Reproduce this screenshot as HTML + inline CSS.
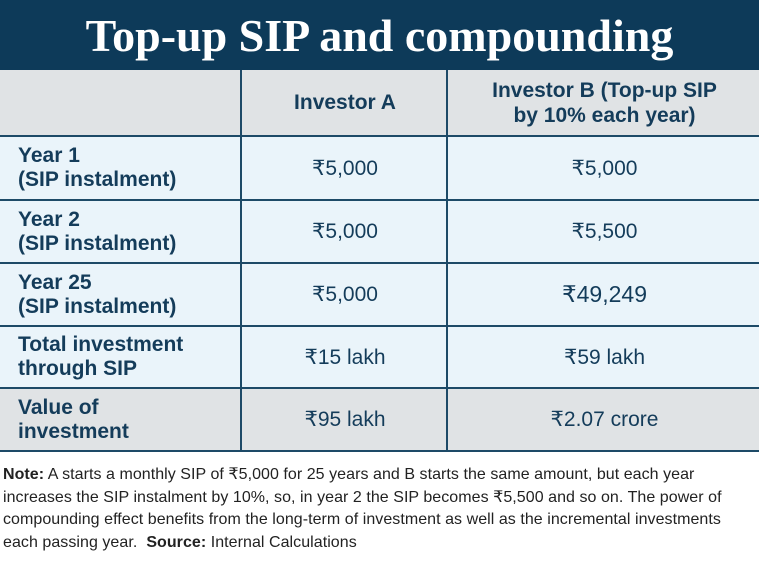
<!DOCTYPE html>
<html><head><meta charset="utf-8"><style>
body{margin:0;width:759px;height:561px;background:#fff;position:relative;overflow:hidden;font-family:"Liberation Sans","DejaVu Sans",sans-serif;color:#143c5a}
.t{position:absolute;left:0;top:0;width:759px;height:70px;background:#0d3a59;color:#fff;font-family:"Liberation Serif",serif;font-weight:bold;font-size:46px;text-align:center;line-height:72px}
.r{position:absolute;left:0;width:759px;box-sizing:border-box;border-bottom:2px solid #1d4a67}
.c{position:absolute;top:0;bottom:0;display:flex;align-items:center}
.c1{left:0;width:240px;padding-left:18px;box-sizing:border-box;font-weight:bold;font-size:21px;line-height:24px}
.c2{left:240px;width:206px;justify-content:center;font-size:21px;border-left:2px solid #1d4a67}
.c3{left:446px;width:313px;justify-content:center;font-size:21px;border-left:2px solid #1d4a67;text-align:center}
.h .c{font-weight:bold;line-height:25px}
.n{position:absolute;left:3px;top:464px;width:756px;font-size:16px;letter-spacing:0.05px;line-height:22.5px;color:#222;white-space:nowrap}
</style></head><body>
<div class="t">Top-up SIP and compounding</div>
<div class="r h" style="top:70px;height:67px;background:#e0e3e5"><div class="c c1"></div><div class="c c2">Investor A</div><div class="c c3">Investor B (Top-up SIP<br>by 10% each year)</div></div>
<div class="r" style="top:137px;height:64px;background:#eaf4fa"><div class="c c1">Year 1<br>(SIP instalment)</div><div class="c c2">₹5,000</div><div class="c c3">₹5,000</div></div>
<div class="r" style="top:201px;height:63px;background:#eaf4fa"><div class="c c1">Year 2<br>(SIP instalment)</div><div class="c c2">₹5,000</div><div class="c c3">₹5,500</div></div>
<div class="r" style="top:264px;height:63px;background:#eaf4fa"><div class="c c1">Year 25<br>(SIP instalment)</div><div class="c c2">₹5,000</div><div class="c c3" style="font-size:23px">₹49,249</div></div>
<div class="r" style="top:327px;height:62px;background:#eaf4fa"><div class="c c1">Total investment<br>through SIP</div><div class="c c2">₹15 lakh</div><div class="c c3">₹59 lakh</div></div>
<div class="r" style="top:389px;height:63px;background:#e0e3e5"><div class="c c1">Value of<br>investment</div><div class="c c2">₹95 lakh</div><div class="c c3">₹2.07 crore</div></div>
<div class="n"><b>Note:</b> A starts a monthly SIP of ₹5,000 for 25 years and B starts the same amount, but each year<br>increases the SIP instalment by 10%, so, in year 2 the SIP becomes ₹5,500 and so on. The power of<br>compounding effect benefits from the long-term of investment as well as the incremental investments<br>each passing year.&nbsp; <b>Source:</b> Internal Calculations</div>
</body></html>
